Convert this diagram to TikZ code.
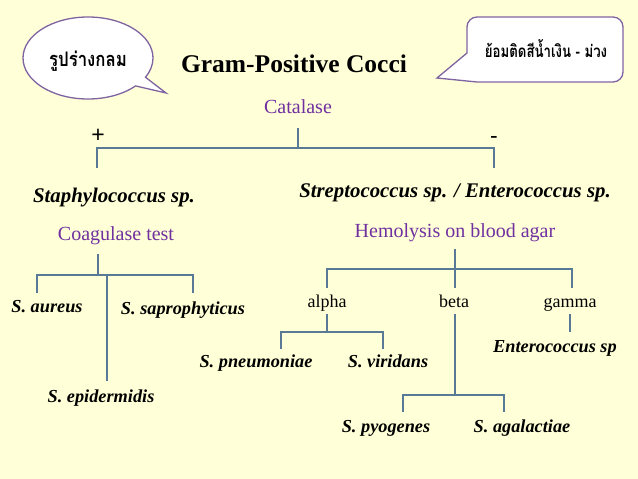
\documentclass[tikz,border=0pt]{standalone}
\usepackage{fontspec}
\setmainfont{Liberation Serif}
\newfontfamily\sansfont{Liberation Sans}
\newfontfamily\thaifont[Script=Thai]{Loma}
\usetikzlibrary{shapes.callouts}

\definecolor{sfondo}{RGB}{255,255,216}
\definecolor{linea}{RGB}{88,122,150}
\definecolor{viola}{RGB}{112,48,160}
\definecolor{bordo}{RGB}{128,100,162}

\begin{document}
\begin{tikzpicture}[x=1pt, y=-1pt,
			ramo/.style={line width=1.2pt, linea},
			fumetto/.style={draw=bordo, fill=white, line width=1.3pt},
			titolo/.style={anchor=base, font=\bfseries\fontsize{25.5}{30}\selectfont},
			prova/.style={anchor=base, text=viola, font=\fontsize{20}{24}\selectfont},
			genere/.style={anchor=base, font=\bfseries\itshape\fontsize{20.8}{25}\selectfont},
			specie/.style={anchor=base, font=\bfseries\itshape\fontsize{18.3}{22}\selectfont},
			tipo/.style={anchor=base, font=\fontsize{18}{22}\selectfont},
			segno/.style={anchor=base, font=\sansfont\fontsize{23}{26}\selectfont}]
			
			\useasboundingbox (0,0) rectangle (638,479);
			\fill[sfondo] (0,0) rectangle (638,479);
			
			%% --- fumetti ---
			\node[fumetto, ellipse callout, minimum width=130, minimum height=82,
				callout absolute pointer={(166,93)}] (tondo) at (88,58) {};
			\node[anchor=base, font=\thaifont\bfseries\fontsize{20}{24}\selectfont]
				(forma) at (88,66) {\scalebox{0.84}[1]{รูปร่างกลม}};
			
			\draw[fumetto] (437,78) -- (467,53) [rounded corners=10] -- (467,17)
				-- (623,17) -- (623,82) [sharp corners] -- (477,82) -- cycle;
			\node[anchor=base, font=\thaifont\bfseries\fontsize{17}{20}\selectfont]
				(colore) at (546,57) {\scalebox{0.78}[1]{ย้อมติดสีน้ำเงิน - ม่วง}};
			
			%% --- testi ---
			\node[titolo] (gram) at (294,72) {Gram-Positive Cocci};
			\node[prova] (catalasi) at (298,113) {Catalase};
			\node[segno] (piu) at (98,142) {+};
			\node[segno] (meno) at (494,143) {-};
			
			\node[genere] (staf) at (114,202) {Staphylococcus sp.};
			\node[genere] (strep) at (455,197) {Streptococcus sp. / Enterococcus sp.};
			
			\node[prova] (coag) at (116,240) {Coagulase test};
			\node[prova] (emol) at (455,237) {Hemolysis on blood agar};
			
			\node[specie] (aureus) at (47,312) {S. aureus};
			\node[specie] (sapro) at (183,314) {S. saprophyticus};
			\node[specie] (epi) at (101,402) {S. epidermidis};
			
			\node[tipo] (alfa) at (327,307) {alpha};
			\node[tipo] (beta) at (454,307) {beta};
			\node[tipo] (gamma) at (570,307) {gamma};
			
			\node[specie] (pneumo) at (256,367) {S. pneumoniae};
			\node[specie] (viri) at (388,367) {S. viridans};
			\node[specie] (entero) at (555,352) {Enterococcus sp};
			\node[specie] (pyo) at (386,432) {S. pyogenes};
			\node[specie] (agal) at (522,432) {S. agalactiae};
			
			%% --- catalasi ---
			\coordinate (cA) at (298,128);
			\coordinate (cB) at (298,148);
			\coordinate (cSx) at (97,168);
			\coordinate (cDx) at (494,168);
			\draw[ramo] (cA) -- (cB) -| (cSx);
			\draw[ramo] (cB) -| (cDx);
			
			%% --- coagulasi ---
			\coordinate (kA) at (98,254);
			\coordinate (kB) at (98,275);
			\coordinate (kSx) at (37,293);
			\coordinate (kMe) at (107,381);
			\coordinate (kDx) at (193,293);
			\draw[ramo] (kA) -- (kB) -| (kSx);
			\draw[ramo] (kB) -| (kDx);
			\draw[ramo] (kB) -| (kMe);
			
			%% --- emolisi ---
			\coordinate (eA) at (455,249);
			\coordinate (eB) at (455,269);
			\coordinate (eSx) at (327,288);
			\coordinate (eMe) at (455,288);
			\coordinate (eDx) at (572,288);
			\draw[ramo] (eA) -- (eB) -| (eSx);
			\draw[ramo] (eB) -- (eMe);
			\draw[ramo] (eB) -| (eDx);
			
			%% --- alpha ---
			\coordinate (aA) at (327,314);
			\coordinate (aB) at (327,332);
			\coordinate (aSx) at (281,349);
			\coordinate (aDx) at (383,349);
			\draw[ramo] (aA) -- (aB) -| (aSx);
			\draw[ramo] (aB) -| (aDx);
			
			%% --- beta ---
			\coordinate (bA) at (455,314);
			\coordinate (bB) at (455,395);
			\coordinate (bSx) at (403,412);
			\coordinate (bDx) at (504,412);
			\draw[ramo] (bA) -- (bB) -| (bSx);
			\draw[ramo] (bB) -| (bDx);
			
			%% --- gamma ---
			\coordinate (gA) at (570,314);
			\coordinate (gB) at (570,332);
			\draw[ramo] (gA) -- (gB);
			
		\end{tikzpicture}
\end{document}
